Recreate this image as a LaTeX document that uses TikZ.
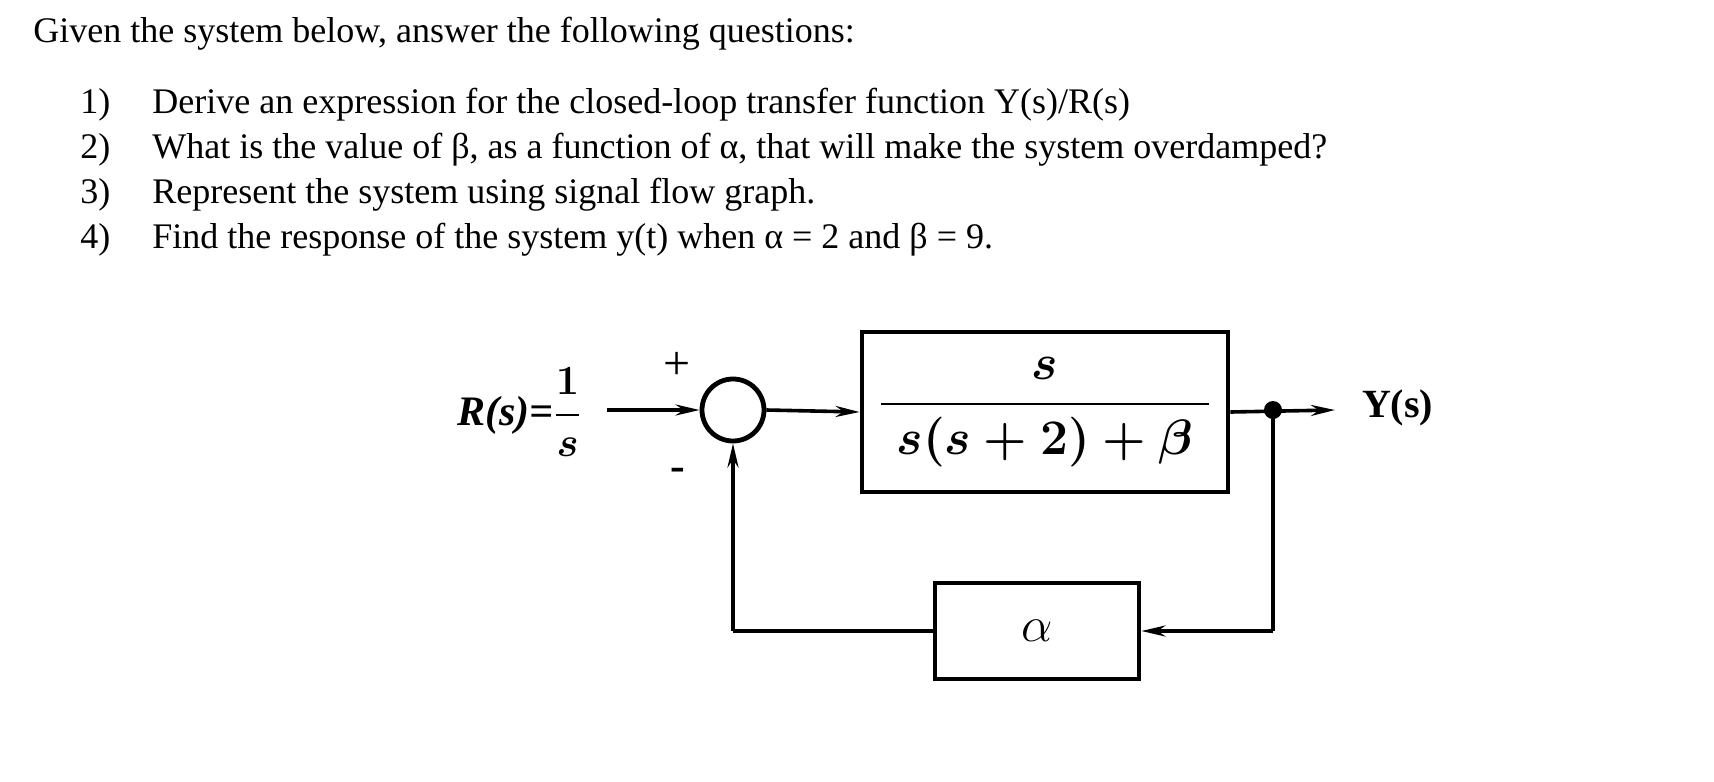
\documentclass[tikz,border=0pt]{standalone}
\usepackage{amsmath}
\usepackage{fontspec}
\setmainfont{Liberation Serif}
\usetikzlibrary{arrows.meta}
\begin{document}
\begin{tikzpicture}[x=0.5pt,y=-0.5pt,
  ln/.style={line width=1.8pt},
  arr/.style={ln,-{Stealth[length=12pt,width=5.5pt]}},
  blk/.style={draw,line width=2.4pt,minimum width=183pt,minimum height=80pt,inner sep=0pt},
  txt/.style={anchor=base west,inner sep=0pt,font=\fontsize{18pt}{21pt}\selectfont}]
\useasboundingbox (0,0) rectangle (1714,782);
\node[txt] (t0) at (33,42) {Given the system below, answer the following questions:};
\node[txt] (n1) at (80,113) {1)}; \node[txt] (q1) at (152,113) {Derive an expression for the closed-loop transfer function Y(s)/R(s)};
\node[txt] (n2) at (80,158) {2)}; \node[txt] (q2) at (152,158) {What is the value of β, as a function of α, that will make the system overdamped?};
\node[txt] (n3) at (80,203) {3)}; \node[txt] (q3) at (152,203) {Represent the system using signal flow graph.};
\node[txt] (n4) at (80,248) {4)}; \node[txt] (q4) at (152,248) {Find the response of the system y(t) when α = 2 and β = 9.};
% diagram
\node[font=\fontsize{21pt}{24pt}\selectfont\bfseries\itshape,anchor=east,inner sep=0pt] (R) at (582,412) {R(s)=$\boldsymbol{\dfrac{1}{s}}$};
\coordinate (rin) at (607,410);
\node[draw,circle,line width=2.4pt,minimum size=31pt,inner sep=0pt] (sum) at (733,410) {};
\node[font=\fontsize{24pt}{26pt}\selectfont] (plus) at (677,366) {+};
\node[font=\fontsize{22pt}{24pt}\selectfont\bfseries] (minus) at (678,474) {-};
\node[blk] (G) at (1045,412) {\fontsize{23pt}{26pt}\selectfont$\boldsymbol{\dfrac{\;s\;}{\;s(s+2)+\beta\;}}$};
\node[blk,minimum width=102pt,minimum height=48pt] (A) at (1037,631) {\fontsize{26pt}{28pt}\selectfont$\alpha$};
\coordinate (dot) at (1273,410);
\coordinate (out) at (1335,410);
\coordinate (fb) at (1273,631);
\coordinate (fl) at (733,631);
\node[font=\fontsize{20pt}{22pt}\selectfont\bfseries,anchor=west] (Y) at (1355,408) {Y(s)};
\draw[arr] (rin) -- (sum.west);
\draw[arr] (sum.east) -- (G.west);
\draw[arr] (G.east) -- (out);
\fill (dot) circle (4.5pt);
\draw[ln] (dot) -- (fb);
\draw[arr] (fb) -- (A.east);
\draw[ln] (A.west) -- (fl);
\draw[arr] (fl) -- (sum.south);
\end{tikzpicture}
\end{document}
